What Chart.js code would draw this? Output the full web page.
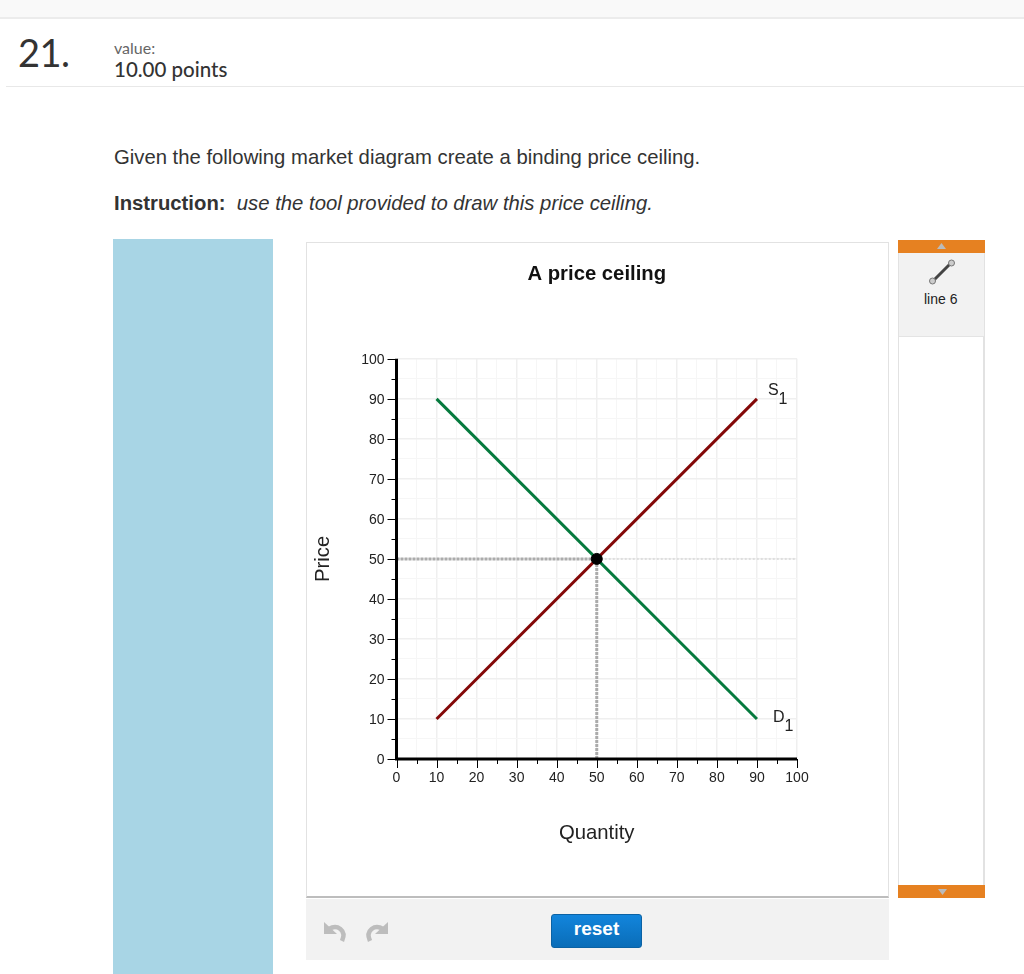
<!DOCTYPE html>
<html>
<head>
<meta charset="utf-8">
<title>A price ceiling</title>
<script src="https://cdn.jsdelivr.net/npm/chart.js@4/dist/chart.umd.min.js"></script>
<style>
  html, body { margin: 0; padding: 0; background: #fff; }
  body { width: 1024px; height: 974px; position: relative; overflow: hidden; font-family: "Liberation Sans", Arial, sans-serif; color: #333; }
  .box { position: absolute; box-sizing: border-box; }
  .txt { position: absolute; white-space: nowrap; line-height: 1; }
  .head { font-family: Lato, sans-serif; }
  #reset { left: 551px; top: 914px; width: 91px; height: 34px; border: 1px solid #0b62a4; border-radius: 3px;
    background: linear-gradient(#1285dc, #0a6db8); color: #fff; font: bold 19px "Liberation Sans", Arial, sans-serif;
    text-align: center; line-height: 28px; }
  canvas { position: absolute; left: 307px; top: 243px; }
</style>
</head>
<body>
  <!-- page header -->
  <div class="box" style="left:0;top:0;width:1024px;height:17px;background:#f9f9f9"></div>
  <div class="box" style="left:0;top:17px;width:1024px;height:2px;background:#ececec"></div>
  <div class="box" style="left:6px;top:86px;width:1018px;height:1px;background:#e8e8e8"></div>
  <div class="txt head" style="left:18px;top:33px;font-size:38px;font-weight:400;letter-spacing:-0.5px;color:#333">21.</div>
  <div class="txt head" style="left:114px;top:40px;font-size:16px;color:#666">value:</div>
  <div class="txt head" style="left:114px;top:59px;font-size:20.500px;color:#333;font-weight:500">10.00 points</div>

  <!-- question text -->
  <div class="txt" style="left:114px;top:147px;font-size:20.300px">Given the following market diagram create a binding price ceiling.</div>
  <div class="txt" style="left:114px;top:193px;font-size:20.300px"><b>Instruction:</b>&nbsp; <i>use the tool provided to draw this price ceiling.</i></div>

  <!-- left colour band -->
  <div class="box" style="left:113px;top:239px;width:160px;height:735px;background:#a8d5e5"></div>

  <!-- graph frame and toolbar -->
  <div class="box" style="left:306px;top:242px;width:583px;height:656px;border:1px solid #e2e2e2;border-bottom:2px solid #bdbdbd"></div>
  <div class="box" style="left:306px;top:899px;width:583px;height:61px;background:#f2f2f2"></div>
  <svg class="box" style="left:322px;top:920px" width="70" height="24" viewBox="0 0 70 24">
    <path d="M2 2 L2 14 L15 14 Z" fill="#bdbdbd"/>
    <path d="M7 9 C15 4 25 10 20 21" fill="none" stroke="#bdbdbd" stroke-width="4.500"/>
    <path d="M66 2 L66 14 L53 14 Z" fill="#bdbdbd"/>
    <path d="M61 9 C53 4 43 10 48 21" fill="none" stroke="#bdbdbd" stroke-width="4.500"/>
  </svg>
  <div class="box" id="reset">reset</div>

  <!-- tool palette -->
  <div class="box" style="left:898px;top:240px;width:87px;height:658px;border:1px solid #e2e2e2;border-width:0 2px 0 1px"></div>
  <div class="box" style="left:899px;top:253px;width:85px;height:84px;background:#f2f2f2;border-bottom:1px solid #e4e4e4"></div>
  <div class="box" style="left:898px;top:240px;width:87px;height:13px;background:#e68121"></div>
  <div class="box" style="left:898px;top:885px;width:87px;height:13px;background:#e68121"></div>
  <svg class="box" style="left:898px;top:240px" width="87" height="13"><path d="M39 9 L48 9 L43.500 3 Z" fill="#bbb"/></svg>
  <svg class="box" style="left:898px;top:885px" width="87" height="13"><path d="M40 4 L49 4 L44.500 10 Z" fill="#bbb"/></svg>
  <svg class="box" style="left:926px;top:258px" width="30" height="30">
    <line x1="7" y1="23" x2="25" y2="5" stroke="#444" stroke-width="3"/>
    <circle cx="6.500" cy="23" r="3" fill="#ccc" stroke="#777"/>
    <circle cx="25.500" cy="5" r="3" fill="#ccc" stroke="#777"/>
  </svg>
  <div class="txt" style="left:924px;top:292px;font-size:14px;color:#222">line 6</div>

  <canvas id="marketChart" width="580" height="654"></canvas>

<script>
// Market diagram data
const chartTitle = 'A price ceiling';
const xAxisName = 'Quantity';
const yAxisName = 'Price';
const axisMin = 0;
const axisMax = 100;
const tickStep = 5;
const labelStep = 10;

const supplyQuantity = [10, 90];
const supplyPrice = [10, 90];
const demandQuantity = [10, 90];
const demandPrice = [90, 10];
const equilibriumQuantity = [50];
const equilibriumPrice = [50];
// Dotted guides running out from the equilibrium point
const priceGuideQuantity = [0, 50];
const priceGuidePrice = [50, 50];
const quantityGuideQuantity = [50, 50];
const quantityGuidePrice = [0, 50];
const extendedGuideQuantity = [50, 100];
const extendedGuidePrice = [50, 50];

function toPoints(xs, ys) {
  return xs.map((x, i) => ({ x: x, y: ys[i] }));
}

// Axis lines, long ticks on the tens and short ticks on the fives
const axisTicks = {
  id: 'axisTicks',
  afterDatasetsDraw(chart) {
    const { ctx, scales: { x, y } } = chart;
    const left = x.getPixelForValue(axisMin);
    const bottom = y.getPixelForValue(axisMin);
    ctx.save();
    ctx.strokeStyle = '#000';
    ctx.lineWidth = 1;
    for (let v = axisMin; v <= axisMax; v += tickStep) {
      const len = v % labelStep === 0 ? 9 : 5;
      const px = Math.round(x.getPixelForValue(v)) + 0.5;
      const py = Math.round(y.getPixelForValue(v)) + 0.5;
      ctx.beginPath();
      ctx.moveTo(px, bottom);
      ctx.lineTo(px, bottom + len);
      ctx.moveTo(left, py);
      ctx.lineTo(left - len, py);
      ctx.stroke();
    }
    ctx.lineWidth = 3;
    ctx.beginPath();
    ctx.moveTo(left, y.getPixelForValue(axisMax));
    ctx.lineTo(left, bottom);
    ctx.lineTo(x.getPixelForValue(axisMax), bottom);
    ctx.stroke();
    ctx.restore();
  }
};

// S1 and D1 curve labels with a dropped subscript
const curveLabels = {
  id: 'curveLabels',
  afterDatasetsDraw(chart) {
    const { ctx, scales: { x, y } } = chart;
    const items = [
      { base: 'S', sub: '1', qty: supplyQuantity[1], price: supplyPrice[1], dx: 11, dy: -8 },
      { base: 'D', sub: '1', qty: demandQuantity[1], price: demandPrice[1], dx: 16, dy: -1 }
    ];
    ctx.save();
    ctx.fillStyle = '#222';
    ctx.textBaseline = 'middle';
    ctx.font = '16px "Liberation Sans", Arial, sans-serif';
    items.forEach(item => {
      const px = x.getPixelForValue(item.qty) + item.dx;
      const py = y.getPixelForValue(item.price) + item.dy;
      ctx.fillText(item.base, px, py);
      ctx.fillText(item.sub, px + ctx.measureText(item.base).width, py + 9);
    });
    ctx.restore();
  }
};

const sharedTicks = {
  stepSize: tickStep,
  autoSkip: false,
  maxRotation: 0,
  color: '#222',
  font: { family: '"Liberation Sans", Arial, sans-serif', size: 14 },
  callback: function(value) {
    return value % labelStep === 0 ? String(value) : '';
  }
};

const sharedGrid = {
  drawTicks: false,
  drawOnChartArea: true,
  color: ctx => (ctx.tick && ctx.tick.value % labelStep === 0 ? '#efefef' : '#f6f6f6'),
  lineWidth: ctx => (ctx.tick && ctx.tick.value % labelStep === 0 ? 1.500 : 1)
};

new Chart(document.getElementById('marketChart'), {
  type: 'scatter',
  data: {
    datasets: [
      { data: toPoints(extendedGuideQuantity, extendedGuidePrice), showLine: true, borderColor: '#dedede', borderWidth: 2, borderDash: [2, 2], pointRadius: 0 },
      { data: toPoints(priceGuideQuantity, priceGuidePrice), showLine: true, borderColor: '#ababab', borderWidth: 3, borderDash: [3, 1], pointRadius: 0 },
      { data: toPoints(quantityGuideQuantity, quantityGuidePrice), showLine: true, borderColor: '#ababab', borderWidth: 3, borderDash: [3, 1], pointRadius: 0 },
      { label: 'S1', data: toPoints(supplyQuantity, supplyPrice), showLine: true, borderColor: '#830808', borderWidth: 3, pointRadius: 0 },
      { label: 'D1', data: toPoints(demandQuantity, demandPrice), showLine: true, borderColor: '#067a3e', borderWidth: 3, pointRadius: 0 },
      { data: toPoints(equilibriumQuantity, equilibriumPrice), backgroundColor: '#000', borderColor: '#000', pointRadius: 5.500, pointHoverRadius: 5.500 }
    ].map((d, i) => Object.assign(d, { order: 6 - i }))
  },
  options: {
    responsive: false,
    animation: false,
    layout: { padding: { left: 0, right: 90, top: 0, bottom: 51 } },
    scales: {
      x: {
        type: 'linear',
        min: axisMin,
        max: axisMax,
        border: { display: false },
        grid: sharedGrid,
        ticks: Object.assign({}, sharedTicks, { padding: 11 }),
        title: { display: true, text: xAxisName, color: '#222', font: { family: '"Liberation Sans", Arial, sans-serif', size: 20.300 }, padding: { top: 0, bottom: 0 } },
        afterFit: scale => { scale.height = 87; }
      },
      y: {
        type: 'linear',
        min: axisMin,
        max: axisMax,
        border: { display: false },
        grid: sharedGrid,
        ticks: Object.assign({}, sharedTicks, { padding: 12, labelOffset: 1 }),
        title: { display: true, text: yAxisName, color: '#222', font: { family: '"Liberation Sans", Arial, sans-serif', size: 20.300 }, padding: { top: 4, bottom: 0 } },
        afterFit: scale => { scale.width = 89.500; }
      }
    },
    plugins: {
      legend: { display: false },
      tooltip: { enabled: false },
      title: {
        display: true,
        fullSize: false,
        text: chartTitle,
        color: '#111',
        font: { family: '"Liberation Sans", Arial, sans-serif', size: 20.300, weight: 'bold' },
        padding: { top: 19, bottom: 72.500 }
      }
    }
  },
  plugins: [axisTicks, curveLabels]
});
</script>
</body>
</html>
